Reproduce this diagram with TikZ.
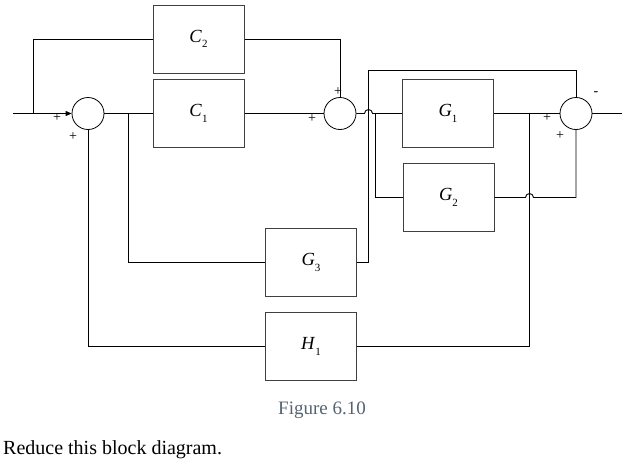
\documentclass[tikz,border=0pt]{standalone}
\usepackage{fontspec}
\setmainfont{Liberation Serif}
\usetikzlibrary{arrows.meta}
\definecolor{capcol}{RGB}{84,98,114}
\begin{document}
\begin{tikzpicture}[x=1pt,y=-1pt,
  blk/.style={draw=black!75,line width=1pt,minimum width=91pt,minimum height=68pt,inner sep=0pt,font=\fontsize{18.5}{19}\selectfont},
  sumj/.style={draw=black,line width=0.8pt,circle,minimum size=32pt,inner sep=0pt},
  wire/.style={draw=black,line width=0.9pt},
  sgn/.style={font=\fontsize{14}{14}\selectfont,inner sep=0pt}]
\useasboundingbox (0,0) rectangle (635,467);
\newcommand{\lbl}[2]{\textit{#1}\raisebox{-0.65ex}{\fontsize{11}{11}\selectfont #2}}
% blocks
\node[blk] (C2) at (198.5,39) {\lbl{C}{2}};
\node[blk] (C1) at (198.5,113.5) {\lbl{C}{1}};
\node[blk] (G1) at (448,113.5) {\lbl{G}{1}};
\node[blk] (G2) at (448.5,197.5) {\lbl{G}{2}};
\node[blk] (G3) at (311,262.5) {\lbl{G}{3}};
\node[blk] (H1) at (311,346.5) {\lbl{H}{1}};
% summing junctions
\node[sumj] (s1) at (88,113.5) {};
\node[sumj] (s2) at (340,113.5) {};
\node[sumj] (s3) at (576,113.5) {};
% coordinates
\coordinate (in) at (13,113.5);
\coordinate (out) at (622,113.5);
\coordinate (b0) at (33.5,113.5);
\coordinate (b1) at (128.5,113.5);
\coordinate (b2) at (375.5,113.5);
\coordinate (b3) at (529.5,113.5);
\coordinate (t1) at (368.5,70.5);
% connectors
\draw[wire,-{Triangle[length=6pt,width=5pt]}] (in) -- (s1.west);
\draw[wire] (b0) |- (C2.west);
\draw[wire] (C2.east) -| (s2.north);
\draw[wire] (s1.east) -- (C1.west);
\draw[wire] (b1) |- (G3.west);
\draw[wire] (C1.east) -- (s2.west);
\draw[wire] (s2.east) -- (364.5,113.5) arc[start angle=180,end angle=0,radius=4pt] -- (G1.west);
\draw[wire] (b2) |- (G2.west);
\draw[wire] (G3.east) -| (t1) -| (s3.north);
\draw[wire] (G1.east) -- (s3.west);
\draw[wire] (b3) |- (H1.east);
\draw[wire] (G2.east) -- (525.5,197.5) arc[start angle=180,end angle=0,radius=4pt] -| (s3.south);
\draw[wire] (H1.west) -| (s1.south);
\draw[wire] (s3.east) -- (out);
% signs
\node[sgn] (p1) at (57,118) {+};
\node[sgn] (p2) at (73,137) {+};
\node[sgn] (p3) at (338,92) {+};
\node[sgn] (p4) at (312,119) {+};
\node[sgn] (p5) at (547,118) {+};
\node[sgn] (p6) at (560,136) {+};
\node[sgn] (m1) at (596,94) {-};
% captions
\node[text=capcol,font=\fontsize{19}{19}\selectfont,inner sep=0pt] (cap) at (322,410) {Figure 6.10};
\node[anchor=west,font=\fontsize{20}{20}\selectfont,inner sep=0pt] (task) at (3,450) {Reduce this block diagram.};
\end{tikzpicture}
\end{document}
